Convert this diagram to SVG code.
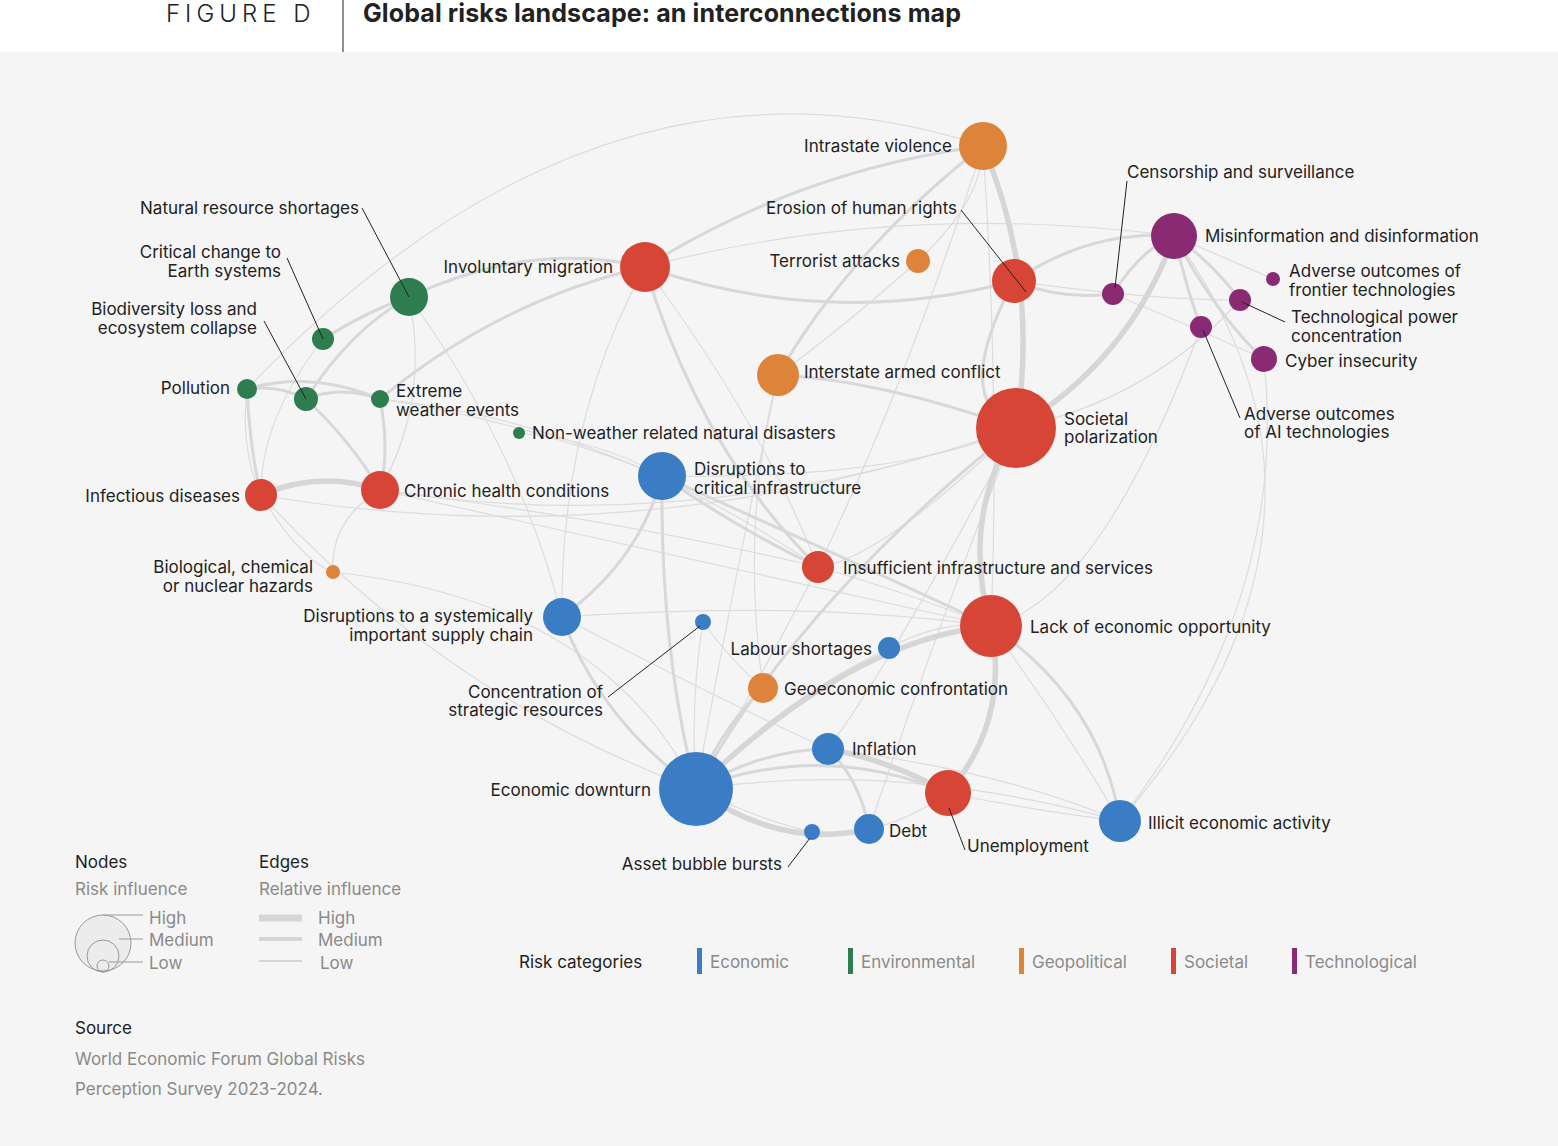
<svg xmlns="http://www.w3.org/2000/svg" width="1558" height="1146" viewBox="0 0 1558 1146">
<style>
text{font-family:Inter,"Liberation Sans",Arial,sans-serif;font-size:17px;fill:#222}
.g{fill:#8a8a8a}
.e1{fill:none;stroke:#dcdcdc;stroke-width:1.2}
.e2{fill:none;stroke:#d8d8d8;stroke-width:3}
.e3{fill:none;stroke:#d6d6d6;stroke-width:5.5}
.ld{stroke:#222;stroke-width:1;fill:none}
.ec{fill:#3a7dc4}.en{fill:#2e7d4f}.ge{fill:#dd843a}.so{fill:#d64535}.te{fill:#8a2a73}
.end{text-anchor:end}
</style>
<rect width="1558" height="1146" fill="#f5f5f5"/>
<rect width="1558" height="52" fill="#fff"/>
<text x="166" y="22" style="font-size:24px;letter-spacing:5px;font-weight:300">FIGURE D</text>
<line x1="343" y1="0" x2="343" y2="52" stroke="#222" stroke-width="1"/>
<text x="363" y="22" textLength="598" style="font-size:25px;font-weight:bold">Global risks landscape: an interconnections map</text>
<g id="edges">
<path class="e1" d="M247 389 Q600 20 983 146"/>
<path class="e1" d="M645 267 Q900 200 1174 236"/>
<path class="e1" d="M1174 236 Q1380 520 1120 821"/>
<path class="e1" d="M1264 359 Q1290 600 1120 821"/>
<path class="e1" d="M261 495 Q450 700 696 789"/>
<path class="e1" d="M333 572 Q600 600 696 789"/>
<path class="e1" d="M380 490 Q700 540 1016 428"/>
<path class="e1" d="M261 495 Q640 560 1016 428"/>
<path class="e1" d="M380 490 Q620 520 818 567"/>
<path class="e1" d="M380 490 Q700 560 991 626"/>
<path class="e1" d="M519 433 Q600 440 662 476"/>
<path class="e1" d="M380 399 Q600 420 818 567"/>
<path class="e1" d="M380 399 Q520 420 662 476"/>
<path class="e1" d="M763 688 Q740 520 778 375"/>
<path class="e1" d="M889 648 Q780 700 696 789"/>
<path class="e1" d="M889 648 Q940 620 991 626"/>
<path class="e1" d="M812 832 Q760 820 696 789"/>
<path class="e1" d="M812 832 Q840 840 869 829"/>
<path class="e1" d="M869 829 Q910 820 948 793"/>
<path class="e1" d="M703 622 Q730 660 763 688"/>
<path class="e1" d="M703 622 Q690 700 696 789"/>
<path class="e1" d="M818 567 Q900 590 991 626"/>
<path class="e1" d="M818 567 Q760 680 696 789"/>
<path class="e1" d="M778 375 Q730 600 696 789"/>
<path class="e1" d="M1120 821 Q900 760 696 789"/>
<path class="e1" d="M1120 821 Q1030 810 948 793"/>
<path class="e1" d="M918 261 Q983 200 983 146"/>
<path class="e1" d="M918 261 Q840 330 778 375"/>
<path class="e1" d="M1016 428 Q880 560 818 567"/>
<path class="e1" d="M1016 428 Q900 650 828 749"/>
<path class="e1" d="M1016 428 Q940 620 869 829"/>
<path class="e1" d="M662 476 Q900 480 1016 428"/>
<path class="e1" d="M562 617 Q800 600 991 626"/>
<path class="e1" d="M562 617 Q720 700 828 749"/>
<path class="e1" d="M645 267 Q560 420 562 617"/>
<path class="e1" d="M409 297 Q520 450 562 617"/>
<path class="e1" d="M1201 327 Q1100 600 991 626"/>
<path class="e1" d="M1240 300 Q1150 400 1016 428"/>
<path class="e1" d="M1273 279 Q1230 260 1174 236"/>
<path class="e1" d="M1113 294 Q1200 330 1264 359"/>
<path class="e1" d="M1014 281 Q1150 300 1240 300"/>
<path class="e1" d="M247 389 Q240 450 261 495"/>
<path class="e1" d="M323 339 Q260 420 261 495"/>
<path class="e1" d="M409 297 Q430 400 380 490"/>
<path class="e1" d="M333 572 Q330 520 380 490"/>
<path class="e1" d="M261 495 Q300 560 333 572"/>
<path class="e1" d="M645 267 Q760 420 818 567"/>
<path class="e1" d="M983 146 Q900 400 818 567"/>
<path class="e1" d="M983 146 Q1000 400 991 626"/>
<path class="e1" d="M828 749 Q1000 770 1120 821"/>
<path class="e1" d="M991 626 Q1060 720 1120 821"/>
<path class="e2" d="M983 146 Q800 170 645 267"/>
<path class="e2" d="M983 146 Q850 250 778 375"/>
<path class="e2" d="M1174 236 Q1090 230 1014 281"/>
<path class="e2" d="M1113 294 Q1140 250 1174 236"/>
<path class="e2" d="M1014 281 Q1060 300 1113 294"/>
<path class="e2" d="M1174 236 Q1190 300 1201 327"/>
<path class="e2" d="M1174 236 Q1220 320 1264 359"/>
<path class="e2" d="M1174 236 Q1210 260 1240 300"/>
<path class="e2" d="M645 267 Q830 330 1014 281"/>
<path class="e2" d="M645 267 Q700 450 818 567"/>
<path class="e2" d="M409 297 Q530 240 645 267"/>
<path class="e2" d="M306 399 Q350 330 409 297"/>
<path class="e2" d="M323 339 Q370 310 409 297"/>
<path class="e2" d="M247 389 Q280 385 306 399"/>
<path class="e2" d="M306 399 Q340 385 380 399"/>
<path class="e2" d="M247 389 Q310 370 380 399"/>
<path class="e2" d="M380 399 Q390 450 380 490"/>
<path class="e2" d="M306 399 Q350 440 380 490"/>
<path class="e2" d="M247 389 Q250 450 261 495"/>
<path class="e2" d="M380 399 Q500 300 645 267"/>
<path class="e2" d="M562 617 Q640 560 662 476"/>
<path class="e2" d="M562 617 Q600 720 696 789"/>
<path class="e2" d="M662 476 Q660 650 696 789"/>
<path class="e2" d="M662 476 Q740 530 818 567"/>
<path class="e2" d="M662 476 Q850 560 991 626"/>
<path class="e2" d="M1016 428 Q880 380 778 375"/>
<path class="e2" d="M1016 428 Q800 600 696 789"/>
<path class="e2" d="M991 626 Q1100 700 1120 821"/>
<path class="e2" d="M696 789 Q760 750 828 749"/>
<path class="e2" d="M763 688 Q720 730 696 789"/>
<path class="e2" d="M696 789 Q820 740 948 793"/>
<path class="e2" d="M869 829 Q860 780 828 749"/>
<path class="e2" d="M1014 281 Q950 400 1016 428"/>
<path class="e3" d="M983 146 Q1040 280 1016 428"/>
<path class="e3" d="M1174 236 Q1130 360 1016 428"/>
<path class="e3" d="M1016 428 Q960 520 991 626"/>
<path class="e3" d="M991 626 Q1010 720 948 793"/>
<path class="e3" d="M696 789 Q850 640 991 626"/>
<path class="e3" d="M696 789 Q780 850 869 829"/>
<path class="e3" d="M828 749 Q890 760 948 793"/>
<path class="e3" d="M261 495 Q320 470 380 490"/>
</g>
<g id="n-intrastate"><circle class="ge" cx="983" cy="146" r="24"/><text class="end" x="952" y="152">Intrastate violence</text></g>
<g id="n-censorship"><circle class="te" cx="1113" cy="294" r="11"/><line class="ld" x1="1127" y1="181" x2="1115" y2="288"/><text x="1127" y="178">Censorship and surveillance</text></g>
<g id="n-misinfo"><circle class="te" cx="1174" cy="236" r="23"/><text x="1205" y="242">Misinformation and disinformation</text></g>
<g id="n-erosion"><circle class="so" cx="1014" cy="281" r="22"/><line class="ld" x1="961" y1="210" x2="1026" y2="292"/><text class="end" x="957" y="214">Erosion of human rights</text></g>
<g id="n-terrorist"><circle class="ge" cx="918" cy="261" r="12"/><text class="end" x="900" y="267">Terrorist attacks</text></g>
<g id="n-migration"><circle class="so" cx="645" cy="267" r="25"/><text class="end" x="613" y="273">Involuntary migration</text></g>
<g id="n-natres"><circle class="en" cx="409" cy="297" r="19"/><line class="ld" x1="362" y1="208" x2="409" y2="297"/><text class="end" x="359" y="214">Natural resource shortages</text></g>
<g id="n-critchange"><circle class="en" cx="323" cy="339" r="11"/><line class="ld" x1="287" y1="258" x2="323" y2="339"/><text class="end" x="281" y="258">Critical change to</text><text class="end" x="281" y="277">Earth systems</text></g>
<g id="n-biodiv"><circle class="en" cx="306" cy="399" r="12"/><line class="ld" x1="264" y1="321" x2="306" y2="399"/><text class="end" x="257" y="315">Biodiversity loss and</text><text class="end" x="257" y="334">ecosystem collapse</text></g>
<g id="n-pollution"><circle class="en" cx="247" cy="389" r="10"/><text class="end" x="230" y="394">Pollution</text></g>
<g id="n-extreme"><circle class="en" cx="380" cy="399" r="9"/><text x="396" y="397">Extreme</text><text x="396" y="416">weather events</text></g>
<g id="n-nonweather"><circle class="en" cx="519" cy="433" r="6"/><text x="532" y="439">Non-weather related natural disasters</text></g>
<g id="n-interstate"><circle class="ge" cx="778" cy="375" r="21"/><text x="804" y="378">Interstate armed conflict</text></g>
<g id="n-polarization"><circle class="so" cx="1016" cy="428" r="40"/><text x="1064" y="425">Societal</text><text x="1064" y="443">polarization</text></g>
<g id="n-frontier"><circle class="te" cx="1273" cy="279" r="7"/><text x="1289" y="277">Adverse outcomes of</text><text x="1289" y="296">frontier technologies</text></g>
<g id="n-techpower"><circle class="te" cx="1240" cy="300" r="11"/><line class="ld" x1="1285" y1="322" x2="1242" y2="302"/><text x="1291" y="323">Technological power</text><text x="1291" y="342">concentration</text></g>
<g id="n-ai"><circle class="te" cx="1201" cy="327" r="11"/><line class="ld" x1="1240" y1="418" x2="1203" y2="330"/><text x="1244" y="420">Adverse outcomes</text><text x="1244" y="438">of AI technologies</text></g>
<g id="n-cyber"><circle class="te" cx="1264" cy="359" r="13"/><text x="1285" y="367">Cyber insecurity</text></g>
<g id="n-infectious"><circle class="so" cx="261" cy="495" r="16"/><text class="end" x="240" y="502">Infectious diseases</text></g>
<g id="n-chronic"><circle class="so" cx="380" cy="490" r="19"/><text x="404" y="497">Chronic health conditions</text></g>
<g id="n-critinfra"><circle class="ec" cx="662" cy="476" r="24"/><text x="694" y="475">Disruptions to</text><text x="694" y="494">critical infrastructure</text></g>
<g id="n-biochem"><circle class="ge" cx="333" cy="572" r="7"/><text class="end" x="313" y="573">Biological, chemical</text><text class="end" x="313" y="592">or nuclear hazards</text></g>
<g id="n-insuff"><circle class="so" cx="818" cy="567" r="16"/><text x="843" y="574">Insufficient infrastructure and services</text></g>
<g id="n-supply"><circle class="ec" cx="562" cy="617" r="19"/><text class="end" x="533" y="622">Disruptions to a systemically</text><text class="end" x="533" y="641">important supply chain</text></g>
<g id="n-concentration"><circle class="ec" cx="703" cy="622" r="8"/><line class="ld" x1="608" y1="697" x2="700" y2="626"/><text class="end" x="603" y="698">Concentration of</text><text class="end" x="603" y="716">strategic resources</text></g>
<g id="n-lackecon"><circle class="so" cx="991" cy="626" r="31"/><text x="1030" y="633">Lack of economic opportunity</text></g>
<g id="n-labour"><circle class="ec" cx="889" cy="648" r="11"/><text class="end" x="872" y="655">Labour shortages</text></g>
<g id="n-geoecon"><circle class="ge" cx="763" cy="688" r="15"/><text x="784" y="695">Geoeconomic confrontation</text></g>
<g id="n-inflation"><circle class="ec" cx="828" cy="749" r="16"/><text x="852" y="755">Inflation</text></g>
<g id="n-downturn"><circle class="ec" cx="696" cy="789" r="37"/><text class="end" x="651" y="796">Economic downturn</text></g>
<g id="n-unemployment"><circle class="so" cx="948" cy="793" r="23"/><line class="ld" x1="965" y1="850" x2="949" y2="808"/><text x="967" y="852">Unemployment</text></g>
<g id="n-debt"><circle class="ec" cx="869" cy="829" r="15"/><text x="889" y="837">Debt</text></g>
<g id="n-bubble"><circle class="ec" cx="812" cy="832" r="8"/><line class="ld" x1="788" y1="867" x2="810" y2="838"/><text class="end" x="782" y="870">Asset bubble bursts</text></g>
<g id="n-illicit"><circle class="ec" cx="1120" cy="821" r="21"/><text x="1148" y="829">Illicit economic activity</text></g>
<g id="legend">
<text x="75" y="868">Nodes</text><text class="g" x="75" y="895">Risk influence</text>
<circle cx="103" cy="943" r="28" fill="#ececec" stroke="#999"/>
<circle cx="103" cy="956" r="16" fill="none" stroke="#999"/>
<circle cx="103" cy="966" r="6" fill="none" stroke="#999"/>
<line x1="103" y1="915" x2="143" y2="915" stroke="#999"/><line x1="119" y1="939" x2="143" y2="939" stroke="#999"/><line x1="109" y1="962" x2="143" y2="962" stroke="#999"/>
<text class="g" x="149" y="924">High</text><text class="g" x="149" y="946">Medium</text><text class="g" x="149" y="969">Low</text>
<text x="259" y="868">Edges</text><text class="g" x="259" y="895">Relative influence</text>
<line x1="259" y1="918" x2="302" y2="918" stroke="#d6d6d6" stroke-width="7"/>
<line x1="259" y1="939" x2="302" y2="939" stroke="#d6d6d6" stroke-width="4"/>
<line x1="259" y1="961" x2="302" y2="961" stroke="#d6d6d6" stroke-width="2"/>
<text class="g" x="318" y="924">High</text><text class="g" x="318" y="946">Medium</text><text class="g" x="320" y="969">Low</text>
<text x="519" y="968">Risk categories</text>
<rect class="ec" x="697" y="948" width="5" height="26"/><text class="g" x="710" y="968">Economic</text>
<rect class="en" x="848" y="948" width="5" height="26"/><text class="g" x="861" y="968">Environmental</text>
<rect class="ge" x="1019" y="948" width="5" height="26"/><text class="g" x="1032" y="968">Geopolitical</text>
<rect class="so" x="1171" y="948" width="5" height="26"/><text class="g" x="1184" y="968">Societal</text>
<rect class="te" x="1292" y="948" width="5" height="26"/><text class="g" x="1305" y="968">Technological</text>
<text x="75" y="1034">Source</text>
<text class="g" x="75" y="1065">World Economic Forum Global Risks</text>
<text class="g" x="75" y="1095">Perception Survey 2023-2024.</text>
</g>
</svg>
